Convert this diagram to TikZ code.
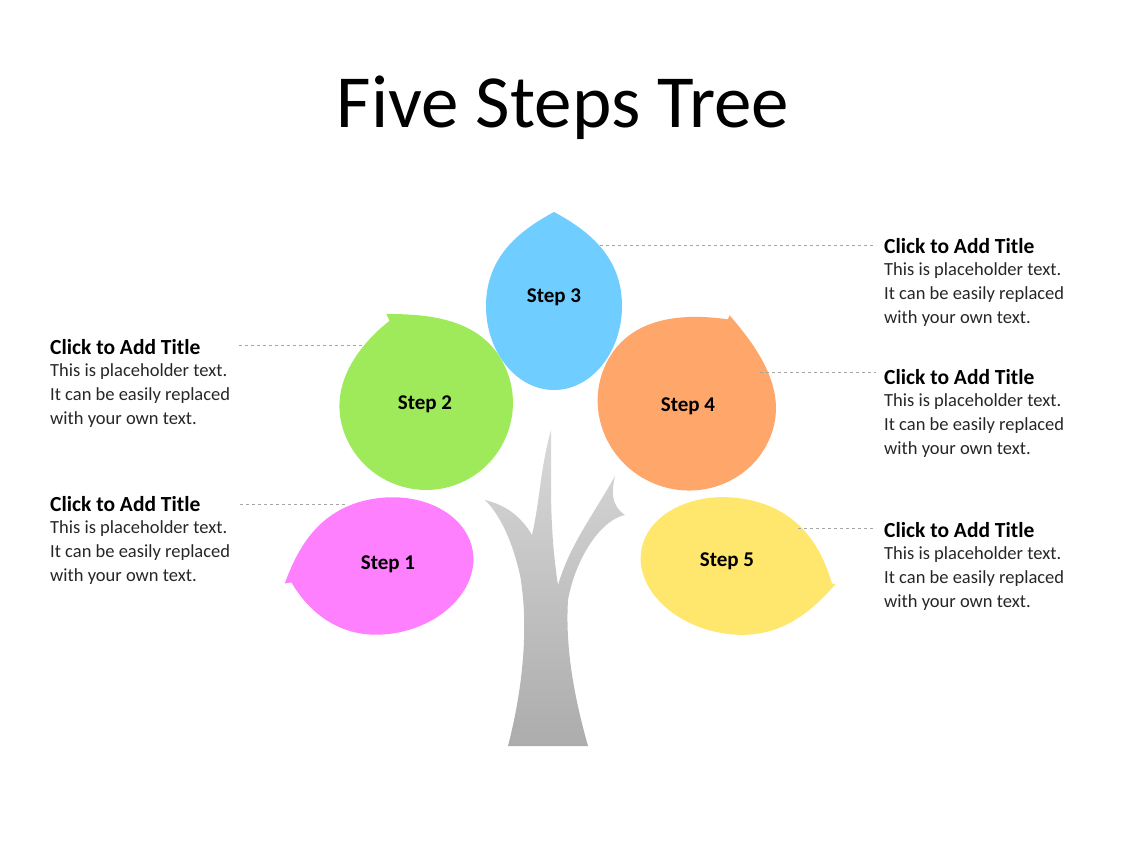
\documentclass[tikz,border=0pt]{standalone}
\usepackage{fontspec}
\setmainfont{Carlito}
\definecolor{cblue}{RGB}{112,205,255}
\definecolor{cgreen}{RGB}{158,234,90}
\definecolor{corange}{RGB}{255,166,106}
\definecolor{cpink}{RGB}{255,128,255}
\definecolor{cyellow}{RGB}{255,230,108}
\newcommand{\leafshape}[6]{%
 \begin{scope}[shift={(#1,#2)},rotate=#3,xscale=#4,yscale=#5]
 \fill[#6] (0,-1.12) .. controls (0.45,-0.92) and (1,-0.62) .. (1,0) .. controls (1,0.55) and (0.55,1) .. (0,1) .. controls (-0.55,1) and (-1,0.55) .. (-1,0) .. controls (-1,-0.62) and (-0.45,-0.92) .. cycle;
 \end{scope}}
\begin{document}
\begin{tikzpicture}[x=1pt,y=-1pt,
 lead/.style={gray!70,dashed,line width=0.6pt},
 ttl/.style={anchor=north west,font=\fontsize{21.5}{24}\selectfont\bfseries,inner sep=0pt},
 body/.style={anchor=north west,font=\fontsize{18.5}{24}\selectfont,align=left,inner sep=0pt,text=black!85},
 stp/.style={font=\fontsize{21}{24}\selectfont\bfseries}]
\useasboundingbox (0,0) rectangle (1128,846);
\node (t) at (563,108) {\fontsize{75}{80}\selectfont Five Steps Tree};
% trunk
\shade[top color=gray!30,bottom color=gray!65]
 (508,746) .. controls (525,680) and (528,620) .. (520,575)
 .. controls (512,540) and (500,515) .. (485,500)
 .. controls (505,505) and (520,515) .. (532,535)
 .. controls (540,500) and (540,470) .. (551,430)
 .. controls (552,470) and (548,520) .. (558,585)
 .. controls (570,545) and (590,520) .. (615,476)
 .. controls (612,490) and (610,505) .. (625,515)
 .. controls (600,520) and (575,560) .. (568,600)
 .. controls (565,650) and (575,700) .. (588,746) -- cycle;
% leaves
\leafshape{554}{306}{0}{68}{84}{cblue}
\leafshape{426}{403}{24}{87}{87}{cgreen}
\leafshape{687}{403}{-26}{90}{87}{corange}
\leafshape{384}{566}{100}{68}{90}{cpink}
\leafshape{733}{566}{-100}{68}{93}{cyellow}
\node[stp] (s3) at (554,297) {Step 3};
\node[stp] (s2) at (425,404) {Step 2};
\node[stp] (s4) at (688,406) {Step 4};
\node[stp] (s1) at (388,564) {Step 1};
\node[stp] (s5) at (727,561) {Step 5};
% texts
\node[ttl] (r1) at (884,238) {Click to Add Title};
\node[body] (r1b) at (884,262) {This is placeholder text.\\It can be easily replaced\\with your own text.};
\node[ttl] (r2) at (884,369) {Click to Add Title};
\node[body] (r2b) at (884,393) {This is placeholder text.\\It can be easily replaced\\with your own text.};
\node[ttl] (r3) at (884,522) {Click to Add Title};
\node[body] (r3b) at (884,546) {This is placeholder text.\\It can be easily replaced\\with your own text.};
\node[ttl] (l1) at (50,339) {Click to Add Title};
\node[body] (l1b) at (50,363) {This is placeholder text.\\It can be easily replaced\\with your own text.};
\node[ttl] (l2) at (50,496) {Click to Add Title};
\node[body] (l2b) at (50,520) {This is placeholder text.\\It can be easily replaced\\with your own text.};
% leaders
\coordinate (a1) at (600,245); \coordinate (a2) at (760,372); \coordinate (a3) at (798,528);
\coordinate (b1) at (362,345); \coordinate (b2) at (345,504);
\draw[lead] (a1) -- (876,245);
\draw[lead] (a2) -- (876,372);
\draw[lead] (a3) -- (876,528);
\draw[lead] (b1) -- (238,345);
\draw[lead] (b2) -- (238,504);
\end{tikzpicture}
\end{document}
